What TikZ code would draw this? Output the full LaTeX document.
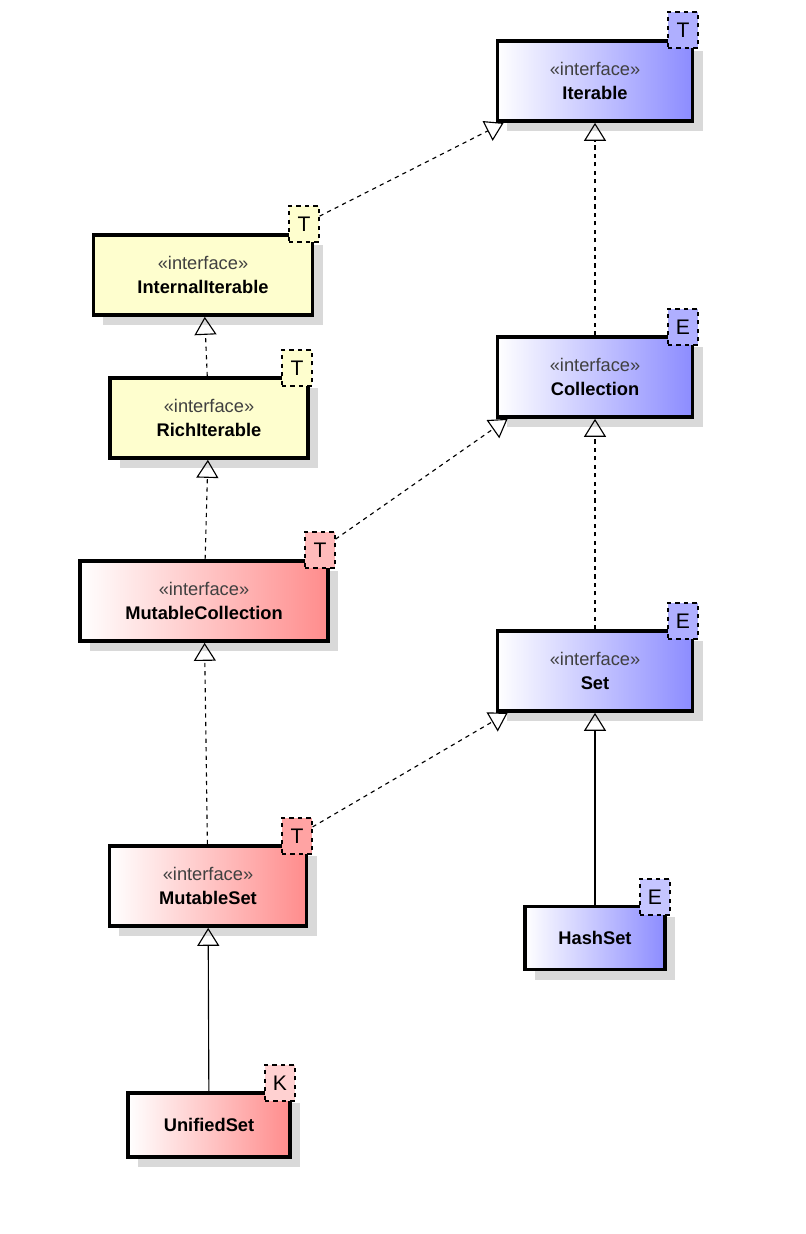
\documentclass[tikz,border=0pt]{standalone}
\usepackage{fontspec}
\setmainfont{Liberation Sans}
\usetikzlibrary{arrows.meta,shadows}
\definecolor{ifblue}{RGB}{140,140,255}
\definecolor{ifyellow}{RGB}{254,254,206}
\definecolor{ifred}{RGB}{255,140,140}
\newcommand{\iface}[1]{{\color{black!75}\normalfont<<interface>>}\\\textbf{#1}}
\begin{document}
\begin{tikzpicture}[x=0.025cm, y=-0.025cm,
    box/.style={draw, line width=2.6pt, align=center, inner sep=2pt,
                minimum height=2cm, font=\fontsize{13}{17}\selectfont,
                drop shadow={shadow xshift=0.25cm, shadow yshift=-0.25cm,
                             fill=black!15, opacity=1}},
    blue/.style={box, left color=white, right color=ifblue},
    yellow/.style={box, fill=ifyellow},
    red/.style={box, left color=white, right color=ifred},
    tag/.style={draw, dashed, thick, minimum width=0.75cm, minimum height=0.9cm,
                inner sep=0pt, font=\fontsize{15}{15}\selectfont, fill=#1},
    real/.style={dashed, thick, -{Triangle[open, length=0.45cm, width=0.55cm]}},
    gen/.style={thick, -{Triangle[open, length=0.45cm, width=0.55cm]}}
  ]
    \useasboundingbox (0,0) rectangle (806,1234);

    \node[blue, minimum width=4.875cm]   (ita)  at (595,81)   {\iface{Iterable}};
    \node[yellow, minimum width=5.475cm] (iit)  at (203,275)  {\iface{InternalIterable}};
    \node[yellow, minimum width=4.95cm]  (ric)  at (209,418)  {\iface{RichIterable}};
    \node[blue, minimum width=4.875cm]   (col)  at (595,377)  {\iface{Collection}};
    \node[red, minimum width=6.2cm]      (mcol) at (204,601)  {\iface{MutableCollection}};
    \node[blue, minimum width=4.875cm]   (set)  at (595,671)  {\iface{Set}};
    \node[red, minimum width=4.925cm]    (mset) at (208,886)  {\iface{MutableSet}};
    \node[blue, minimum width=3.5cm, minimum height=1.575cm]
                                         (hset) at (595,938)  {\textbf{HashSet}};
    \node[red, minimum width=4.05cm, minimum height=1.6cm]
                                         (uset) at (209,1125) {\textbf{UnifiedSet}};

    % type parameters
    \node[tag=ifblue!70]   (ita-t)  at (683,30)   {T};
    \node[tag=ifyellow]    (iit-t)  at (304,224)  {T};
    \node[tag=ifyellow]    (ric-t)  at (297,368)  {T};
    \node[tag=ifblue!70]   (col-t)  at (683,327)  {E};
    \node[tag=ifred!60]    (mcol-t) at (320,550)  {T};
    \node[tag=ifblue!70]   (set-t)  at (683,621)  {E};
    \node[tag=ifred!80]    (mset-t) at (297,836)  {T};
    \node[tag=ifblue!50]   (hset-t) at (655,897)  {E};
    \node[tag=ifred!40]    (uset-t) at (280,1083) {K};

    \draw[real] (iit-t)  -- ([xshift=0.2cm]ita.south west);
    \draw[real] (col)    -- (ita);
    \draw[real] (ric)    -- (iit);
    \draw[real] (mcol)   -- (ric);
    \draw[real] (mcol-t) -- ([xshift=0.3cm]col.south west);
    \draw[real] (set)    -- (col);
    \draw[real] (mset)   -- (mcol);
    \draw[real] (mset-t) -- ([xshift=0.3cm]set.south west);
    \draw[gen]  (hset)   -- (set);
    \draw[gen]  (uset)   -- (mset);
  \end{tikzpicture}
\end{document}
